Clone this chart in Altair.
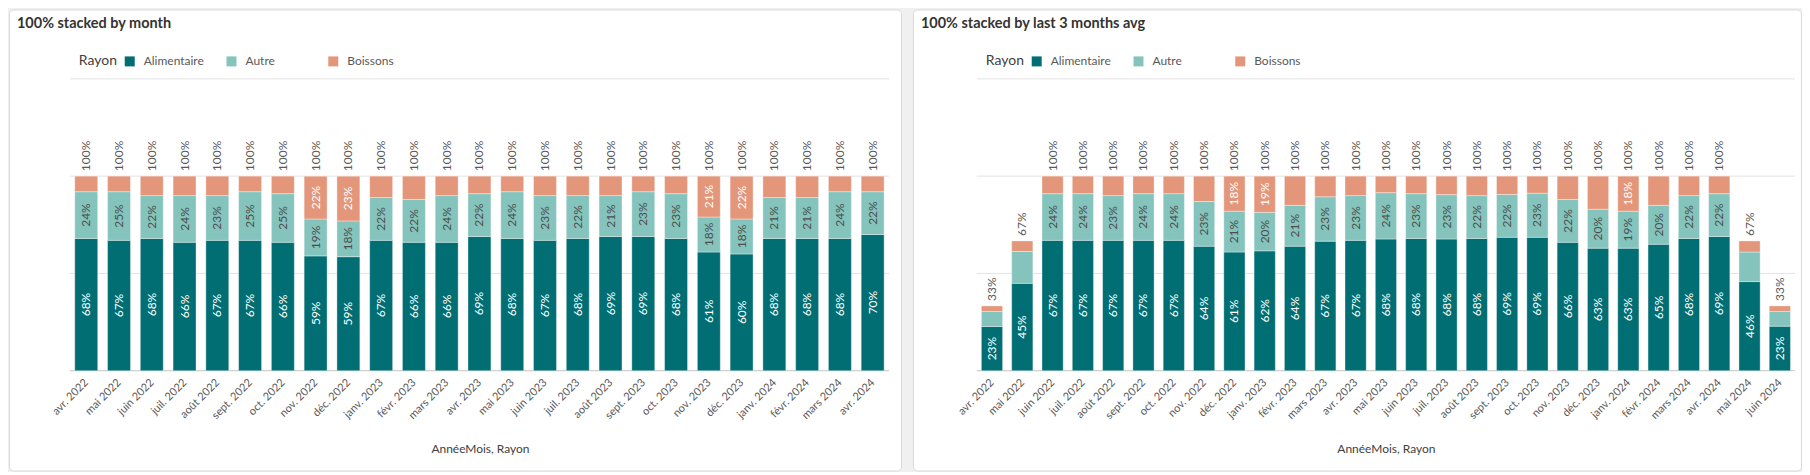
import json
import altair as alt
import pandas as pd

# ---------------- data ----------------
rayons = ["Alimentaire", "Autre", "Boissons"]
colors = ["#006e73", "#84c4bc", "#e3967a"]

months_left = ["avr. 2022", "mai 2022", "juin 2022", "juil. 2022", "août 2022", "sept. 2022",
               "oct. 2022", "nov. 2022", "déc. 2022", "janv. 2023", "févr. 2023", "mars 2023",
               "avr. 2023", "mai 2023", "juin 2023", "juil. 2023", "août 2023", "sept. 2023",
               "oct. 2023", "nov. 2023", "déc. 2023", "janv. 2024", "févr. 2024", "mars 2024",
               "avr. 2024"]
months_right = months_left + ["mai 2024", "juin 2024"]

# 100% stacked by month (percent)
left_alim = [68, 67, 68, 66, 67, 67, 66, 59, 58.6, 67, 66, 66, 69, 68, 67, 68, 69, 69, 68, 61, 60, 68, 68, 68, 70]
left_autre = [24, 25, 22, 24, 23, 25, 25, 19, 18.4, 22, 22, 24, 22, 24, 23, 22, 21, 23, 23, 18, 18, 21, 21, 24, 22]
left_boiss = [8, 8, 10, 10, 10, 8, 9, 22, 23, 11, 12, 10, 9, 8, 10, 10, 10, 8, 9, 21, 22, 11, 11, 8, 8]

# 100% stacked by last 3 months avg (percent)
right_alim = [22.7, 44.9, 67, 67, 67, 67, 67, 64, 61, 61.6, 64, 66.6, 67, 67.7, 68, 67.7, 68, 68.6,
              68.6, 66, 63, 63, 65, 68, 69, 45.8, 22.9]
right_autre = [7.7, 16.4, 24, 24, 23, 24, 24, 23, 21, 19.8, 21, 22.8, 23, 23.8, 23, 22.8, 22, 22.0,
               22.6, 22, 20, 19, 20, 22, 22, 15.2, 7.5]
right_boiss = [2.9, 5.4, 9, 9, 10, 9, 9, 13, 18, 18.6, 15, 10.6, 10, 8.5, 9, 9.5, 10, 9.4,
               8.8, 12, 17, 18, 15, 10, 9, 5.7, 2.9]

grid_values = [0, 50, 100, 150]

FONT = "Lato"
Y_DOMAIN = [-0.5128, 1.8564]
VIEW_H = 462


def long_df(months, series):
    rows = []
    for i, m in enumerate(months):
        for k, r in enumerate(rayons):
            rows.append({"idx": i, "Mois": m, "Rayon": r, "ordre": k, "val": series[k][i]})
    return pd.DataFrame(rows)


def panel(title, months, series, view_w, x_domain, legend_x, axis_title_x):
    n = len(months)
    df = long_df(months, series)
    xs = alt.Scale(domain=x_domain, nice=False, zero=False)
    ys = alt.Scale(domain=Y_DOMAIN, nice=False, zero=False)
    x_axis = alt.Axis(
        values=list(range(n)),
        labelExpr=json.dumps(months, ensure_ascii=False) + "[datum.value]",
        labelAngle=315, labelAlign="right", labelBaseline="middle", labelPadding=10,
        labelFontSize=11, labelColor="#595959", labelFont=FONT,
        labelOverlap=False, labelBound=False, labelFlush=False,
        ticks=False, domain=False, grid=False, offset=-100,
        title="AnnéeMois, Rayon", titleFont=FONT, titleFontSize=12, titleFontWeight="normal",
        titleColor="#404040", titleX=axis_title_x, titleY=81.5, titleAlign="center",
        titleBaseline="alphabetic",
    )

    gdf = pd.DataFrame({"g": [v / 100 for v in grid_values]})
    gdf["xa"] = -0.5
    gdf["xb"] = n - 0.5
    grid = alt.Chart(gdf).mark_rule(strokeWidth=1).encode(
        x=alt.X("xa:Q", scale=xs, axis=x_axis),
        x2="xb:Q",
        y=alt.Y("g:Q", scale=ys, axis=None),
        color=alt.condition("datum.g == 0", alt.value("#c4c4c4"), alt.value("#e3e3e3")),
    )

    base = alt.Chart(df).transform_calculate(frac="datum.val / 100").transform_stack(
        stack="frac", groupby=["idx"], as_=["y0", "y1"],
        sort=[alt.SortField("ordre", order="ascending")],
    )

    bars = base.transform_calculate(
        xa="datum.idx - 0.35", xb="datum.idx + 0.35"
    ).mark_rect(stroke="#ffffff", strokeWidth=0.6, strokeOpacity=0.6).encode(
        x=alt.X("xa:Q", scale=xs, axis=x_axis),
        x2="xb:Q",
        y=alt.Y("y0:Q", scale=ys, axis=None),
        y2="y1:Q",
        color=alt.Color(
            "Rayon:N",
            scale=alt.Scale(domain=rayons, range=colors),
            legend=alt.Legend(
                title="Rayon", orient="none", legendX=legend_x, legendY=46,
                direction="horizontal", titleOrient="left", titleBaseline="middle",
                titleAnchor="middle",
                titleFont=FONT, titleFontSize=14, titleFontWeight="normal", titleColor="#404040",
                titlePadding=6, labelFont=FONT, labelFontSize=12, labelColor="#595959",
                labelOffset=8, symbolType="square", symbolSize=100, symbolStrokeWidth=0,
                symbolOpacity=1, columnPadding=21, gridAlign="all", padding=0,
            ),
        ),
    )

    seg_labels = base.transform_filter("datum.val >= 17.5").transform_calculate(
        ym="(datum.y0 + datum.y1) / 2"
    ).mark_text(angle=270, align="center", baseline="middle", fontSize=12, font=FONT).encode(
        x=alt.X("idx:Q", scale=xs, axis=x_axis),
        y=alt.Y("ym:Q", scale=ys, axis=None),
        text=alt.Text("frac:Q", format=".0%"),
        color=alt.condition("datum.Rayon == 'Autre'", alt.value("#4d4d4d"), alt.value("#ffffff")),
    )

    totals = alt.Chart(df).transform_aggregate(
        tot="sum(val)", groupby=["idx"]
    ).transform_calculate(tf="datum.tot / 100").mark_text(
        angle=270, align="left", baseline="middle", dx=5, fontSize=12, font=FONT, color="#595959"
    ).encode(
        x=alt.X("idx:Q", scale=xs, axis=x_axis),
        y=alt.Y("tf:Q", scale=ys, axis=None),
        text=alt.Text("tf:Q", format=".0%"),
    )

    heading = alt.Chart(pd.DataFrame({"t": [title]})).mark_text(
        align="left", baseline="alphabetic", fontSize=14.5, fontWeight="bold",
        font=FONT, color="#333333",
    ).encode(x=alt.value(8), y=alt.value(19), text="t:N")

    return alt.layer(grid, bars, seg_labels, totals, heading).properties(
        width=view_w, height=VIEW_H,
    )


left = panel("100% stacked by month", months_left, [left_alim, left_autre, left_boiss],
             894, [-2.3575, 24.865], 70, 472)
right = panel("100% stacked by last 3 months avg", months_right, [right_alim, right_autre, right_boiss],
              890, [-2.6073, 26.698], 73, 474)

chart = alt.hconcat(left, right, spacing=10).resolve_scale(
    x="independent", y="independent", color="independent"
).resolve_legend(color="independent").properties(
    padding=0, background="#f0f0f0"
).configure(font=FONT).configure_view(
    fill="#ffffff", stroke="#d9d9d9", strokeWidth=1, cornerRadius=4
)

chart.save("out.html", embed_options={"renderer": "svg", "actions": False})
